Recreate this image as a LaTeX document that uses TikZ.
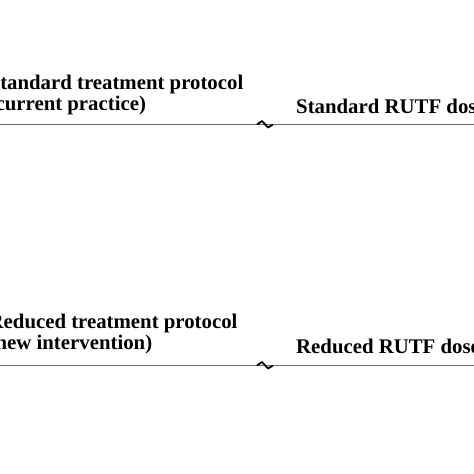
\documentclass[tikz,border=0pt]{standalone}
\usepackage{fontspec}
\setmainfont{Liberation Serif}
\begin{document}
\begin{tikzpicture}[x=1pt,y=-1pt,
    armtext/.style={anchor=base west,inner sep=0pt,font=\fontsize{20.8}{21}\selectfont\bfseries,align=left},
    armline/.style={draw=black!60,line width=1.1pt},
    breakmark/.style={draw=black,line width=1.8pt,line join=round}]
    \useasboundingbox (0,0) rectangle (474,474);
    % standard arm
    \node[armtext] (stdprot) at (-11.5,110) {Standard treatment protocol\\(current practice)};
    \node[armtext] (stddose) at (296,113) {Standard RUTF dose};
    \coordinate (stdL) at (-5,124.5);
    \coordinate (stdR) at (480,124.5);
    \draw[armline] (stdL) -- (stdR);
    \draw[breakmark] (257,124.5) -- (262,121) -- (268,127.5) -- (273,124.5);
    % reduced arm
    \node[armtext] (redprot) at (-11.5,349) {Reduced treatment protocol\\(new intervention)};
    \node[armtext] (reddose) at (296,353) {Reduced RUTF dose};
    \coordinate (redL) at (-5,365.5);
    \coordinate (redR) at (480,365.5);
    \draw[armline] (redL) -- (redR);
    \draw[breakmark] (257,365.5) -- (262,362) -- (268,368.5) -- (273,365.5);
\end{tikzpicture}
\end{document}
